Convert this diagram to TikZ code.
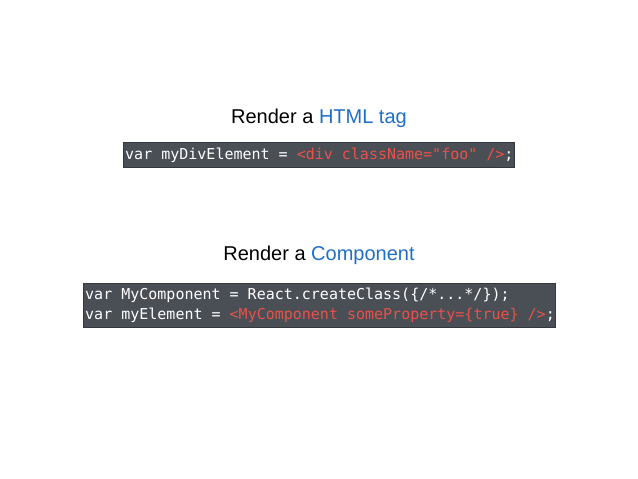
\documentclass[tikz,border=0pt]{standalone}
\usepackage{fontspec}
\setmainfont{Liberation Sans}
\newfontfamily\codefont{DejaVu Sans Mono}
\definecolor{codebg}{HTML}{4A4E55}
\definecolor{codered}{HTML}{E8524A}
\definecolor{titleblue}{HTML}{1F6FC8}
\tikzset{
 codebox/.style={fill=codebg, draw=codebg!70!black, line width=0.5pt},
 codetext/.style={text=white, font=\codefont\fontsize{15}{20}\selectfont, anchor=west, inner sep=0pt},
 title/.style={font=\fontsize{20}{24}\selectfont, text=black}
}
\begin{document}
\begin{tikzpicture}[x=1pt,y=-1pt]
\useasboundingbox (0,0) rectangle (638,479);
\node[title] (t1) at (319,118) {Render a \textcolor{titleblue}{HTML tag}};
\draw[codebox] (123,142) rectangle (514,167);
\node[codetext] (c1) at (125,155) {var myDivElement = \textcolor{codered}{<div className="foo" />};};
\node[title] (t2) at (319,255) {Render a \textcolor{titleblue}{Component}};
\draw[codebox] (83,283) rectangle (555,327);
\node[codetext] (c2) at (85,295) {var MyComponent = React.createClass(\{/*...*/\});};
\node[codetext] (c3) at (85,315) {var myElement = \textcolor{codered}{<MyComponent someProperty=\{true\} />};};
\end{tikzpicture}
\end{document}
